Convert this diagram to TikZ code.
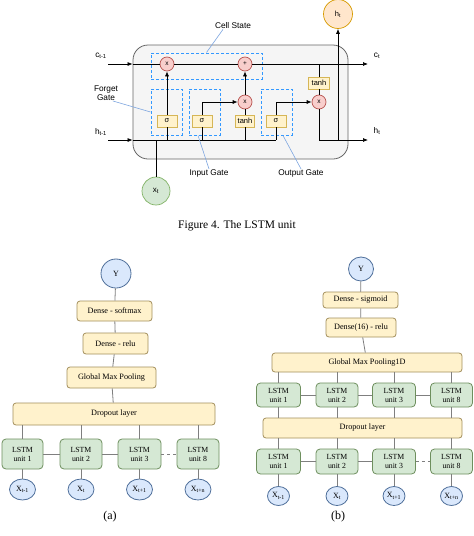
\documentclass[tikz,border=0pt]{standalone}
\usepackage{fontspec}
\setmainfont{Liberation Serif}
\newfontfamily\topfont{Liberation Sans}
\usetikzlibrary{arrows.meta,shapes.geometric}
\definecolor{yfill}{HTML}{FFF2CC}
\definecolor{ydraw}{HTML}{D6B656}
\definecolor{ydk}{HTML}{A38F5C}
\definecolor{gfill}{HTML}{D5E8D4}
\definecolor{gdraw}{HTML}{82B366}
\definecolor{gdk}{HTML}{6E8F5E}
\definecolor{bfill}{HTML}{DAE8FC}
\definecolor{bdk}{HTML}{4F6F9A}
\definecolor{rfill}{HTML}{F8CECC}
\definecolor{rdraw}{HTML}{B85450}
\definecolor{ofill}{HTML}{FFE6CC}
\definecolor{odraw}{HTML}{D79B00}
\definecolor{cellfill}{HTML}{F5F5F5}
\definecolor{celldraw}{HTML}{666666}
\definecolor{dashblue}{HTML}{3399FF}
\definecolor{leadblue}{HTML}{7EA6E0}
\definecolor{cngray}{HTML}{7F7F7F}
\tikzset{
  arr/.style={-{Latex[length=5pt,width=4pt]}},
  opc/.style={circle, minimum size=14pt, inner sep=0pt, fill=rfill, draw=rdraw, font=\topfont\fontsize{6.5}{7}\selectfont},
  gatebox/.style={rectangle, minimum width=20pt, minimum height=12pt, inner sep=0pt, fill=yfill, draw=ydraw, font=\topfont\fontsize{7.5}{8}\selectfont},
  dbox/.style={rectangle, draw=dashblue, dash pattern=on 3pt off 2pt, line width=1pt, inner sep=0pt},
  lab/.style={font=\topfont\fontsize{8.3}{9.5}\selectfont, inner sep=0pt},
  lead/.style={draw=leadblue, line width=0.6pt},
  yb/.style={rectangle, rounded corners=3pt, fill=yfill, draw=ydk, line width=0.8pt, inner sep=0pt, font=\fontsize{8.2}{9}\selectfont},
  gb/.style={rectangle, rounded corners=4pt, fill=gfill, draw=gdk, line width=0.8pt, inner sep=0pt, align=center, font=\fontsize{7.8}{9}\selectfont},
  xc/.style={ellipse, fill=bfill, draw=bdk, line width=0.8pt, inner sep=0pt, font=\fontsize{8}{9}\selectfont},
  cn/.style={draw=cngray, line width=0.8pt}
}
\begin{document}
\begin{tikzpicture}[x=1pt,y=-1pt, line width=0.7pt]
\useasboundingbox (0,0) rectangle (474,536);
\fill[white] (0,0) rectangle (474,536);

% ---------- LSTM unit ----------
\node[draw=celldraw, fill=cellfill, rounded corners=15pt, minimum width=215pt, minimum height=114pt, line width=0.8pt] (cell) at (240.5,102) {};

\node[dbox, minimum width=111pt, minimum height=26pt] (dcs) at (206.5,66) {};
\node[dbox, minimum width=31pt, minimum height=46pt] (dfg) at (166.5,112) {};
\node[dbox, minimum width=31pt, minimum height=46pt] (dig) at (204.5,112) {};
\node[dbox, minimum width=31pt, minimum height=46pt] (dog) at (276.5,112) {};

\coordinate (cin) at (108,64);
\coordinate (cout) at (368,64);
\coordinate (hin) at (108,140);
\coordinate (hout) at (368,140);
\coordinate (hup) at (338,140);

\node[opc] (fx) at (167,64) {x};
\node[opc] (pl) at (245,64) {+};
\node[opc] (ix) at (245,102) {x};
\node[opc] (ox) at (319,102) {x};

\node[gatebox] (fs) at (167,121) {σ};
\node[gatebox] (is) at (202,121) {σ};
\node[gatebox, minimum width=19pt] (tn1) at (245,121) {tanh};
\node[gatebox] (os) at (276,121) {σ};
\node[gatebox, minimum width=21pt] (tn2) at (319,83) {tanh};

\node[circle, minimum size=29pt, inner sep=0pt, fill=ofill, draw=odraw, font=\topfont\fontsize{7.5}{8}\selectfont] (ht) at (338,14) {h\textsubscript{t}};
\node[circle, minimum size=28pt, inner sep=0pt, fill=gfill, draw=gdraw, font=\topfont\fontsize{8}{9}\selectfont] (xt) at (156,191) {x\textsubscript{t}};

\draw[arr] (cin) -- (cin -| cell.west);
\draw (cin -| cell.west) -- (fx);
\draw (fx) -- (pl);
\draw[arr] (pl) -- (cout);
\draw[arr] (hin) -- (hin -| cell.west);
\draw (hin -| cell.west) -- (hin -| os);
\draw[arr] (fs) -- (fx);
\draw (fs) -- (fs |- hin);
\draw (is) -- (is |- hin);
\draw (tn1) -- (tn1 |- hin);
\draw (os) -- (os |- hin);
\draw[arr] (is.north) |- (ix);
\draw (tn1) -- (ix);
\draw[arr] (ix) -- (pl);
\draw[arr] (os.north) |- (ox);
\draw (ox |- cin) -- (tn2);
\draw (tn2) -- (ox);
\draw[arr] (ox) |- (hout);
\draw[arr] (hup) -- (ht);
\draw (xt) -- (xt |- hin);

\node[lab] (lc1) at (101,56) {c\textsubscript{t-1}};
\node[lab] (lh1) at (101,132) {h\textsubscript{t-1}};
\node[lab] (lct) at (377,56) {c\textsubscript{t}};
\node[lab] (lht) at (377,131) {h\textsubscript{t}};
\node[lab] (lcs) at (233,26) {Cell State};
\node[lab, align=center] (lfg) at (106,93) {Forget\\Gate};
\node[lab] (lig) at (209,173) {Input Gate};
\node[lab] (log) at (301,173) {Output Gate};

\draw[lead] ([xshift=-10pt]lcs.south) -- (dcs.north);
\draw[lead] ([xshift=7pt]lfg.south) -- (dfg.west);
\draw[lead] ([xshift=-6.5pt]dig.south) -- (lig.north);
\draw[lead] ([xshift=6.5pt]dog.south) -- (log.north);

\node[font=\fontsize{11.5}{13}\selectfont] (cap) at (237,226) {Figure 4. The LSTM unit};

% ---------- (a) ----------
\node[xc, minimum width=30pt, minimum height=29pt] (aY) at (116,273.5) {Y};
\node[yb, minimum width=75pt, minimum height=20pt] (a1) at (114.5,311) {Dense - softmax};
\node[yb, minimum width=65pt, minimum height=21pt] (a2) at (115.5,343.5) {Dense - relu};
\node[yb, minimum width=89pt, minimum height=21pt] (a3) at (111.5,377.5) {Global Max Pooling};
\node[yb, minimum width=202pt, minimum height=22pt] (a4) at (114,414) {Dropout layer};
\node[gb, minimum width=41pt, minimum height=30pt] (al1) at (22.5,454) {LSTM\\unit 1};
\node[gb, minimum width=42pt, minimum height=30pt] (al2) at (81,454) {LSTM\\unit 2};
\node[gb, minimum width=43pt, minimum height=30pt] (al3) at (139.5,454) {LSTM\\unit 3};
\node[gb, minimum width=42pt, minimum height=30pt] (al8) at (198,454) {LSTM\\unit 8};
\node[xc, minimum width=26pt, minimum height=21pt] (ax1) at (22.5,489.5) {X\textsubscript{t-1}};
\node[xc, minimum width=26pt, minimum height=21pt] (ax2) at (81,489.5) {X\textsubscript{t}};
\node[xc, minimum width=26pt, minimum height=21pt] (ax3) at (139.5,489.5) {X\textsubscript{t+1}};
\node[xc, minimum width=26pt, minimum height=21pt] (ax8) at (198,489.5) {X\textsubscript{t+n}};

\draw[cn] (aY) -- (a1);
\draw[cn] (a1) -- (a2);
\draw[cn] (a2) -- (a3);
\draw[cn] (a3) -- (a4);
\foreach \u in {al1,al2,al3,al8} \draw[cn] (\u.north) -- (\u.north |- a4.south);
\draw[cn] (al1) -- (al2);
\draw[cn] (al2) -- (al3);
\draw[cn, dashed] (al3) -- (al8);
\draw[cn] (al1) -- (ax1);
\draw[cn] (al2) -- (ax2);
\draw[cn] (al3) -- (ax3);
\draw[cn] (al8) -- (ax8);
\node[font=\fontsize{12}{13}\selectfont] (capa) at (110,517) {(a)};

% ---------- (b) ----------
\node[xc, minimum width=25pt, minimum height=24pt] (bY) at (361,269) {Y};
\node[yb, minimum width=75pt, minimum height=16pt] (b1) at (360.5,300) {Dense - sigmoid};
\node[yb, minimum width=70pt, minimum height=19pt] (b2) at (361,327.5) {Dense(16) - relu};
\node[yb, minimum width=190pt, minimum height=19pt] (b3) at (367,362.5) {Global Max Pooling1D};
\node[gb, minimum width=44pt, minimum height=24pt] (bl1) at (278.5,395) {LSTM\\unit 1};
\node[gb, minimum width=42pt, minimum height=24pt] (bl2) at (337,395) {LSTM\\unit 2};
\node[gb, minimum width=43pt, minimum height=24pt] (bl3) at (394,395) {LSTM\\unit 3};
\node[gb, minimum width=42pt, minimum height=24pt] (bl8) at (451.5,395) {LSTM\\unit 8};
\node[yb, minimum width=199pt, minimum height=20pt] (b4) at (362.5,428) {Dropout layer};
\node[gb, minimum width=44pt, minimum height=25pt] (bm1) at (278.5,461.5) {LSTM\\unit 1};
\node[gb, minimum width=42pt, minimum height=25pt] (bm2) at (337,461.5) {LSTM\\unit 2};
\node[gb, minimum width=43pt, minimum height=25pt] (bm3) at (394,461.5) {LSTM\\unit 3};
\node[gb, minimum width=42pt, minimum height=25pt] (bm8) at (451.5,461.5) {LSTM\\unit 8};
\node[xc, minimum width=22pt, minimum height=19pt] (bx1) at (278.5,496) {X\textsubscript{t-1}};
\node[xc, minimum width=22pt, minimum height=19pt] (bx2) at (337,496) {X\textsubscript{t}};
\node[xc, minimum width=22pt, minimum height=19pt] (bx3) at (394,496) {X\textsubscript{t+1}};
\node[xc, minimum width=22pt, minimum height=19pt] (bx8) at (451.5,496) {X\textsubscript{t+n}};

\draw[cn] (bY) -- (b1);
\draw[cn] (b1) -- (b2);
\draw[cn] (b2) -- (b3);
\foreach \u in {bl1,bl2,bl3,bl8} {
  \draw[cn] (\u.north) -- (\u.north |- b3.south);
  \draw[cn] (\u.south) -- (\u.south |- b4.north);
}
\foreach \u in {bm1,bm2,bm3,bm8} \draw[cn] (\u.north) -- (\u.north |- b4.south);
\draw[cn] (bl1) -- (bl2);
\draw[cn] (bl2) -- (bl3);
\draw[cn] (bl3) -- (bl8);
\draw[cn] (bm1) -- (bm2);
\draw[cn] (bm2) -- (bm3);
\draw[cn, dashed] (bm3) -- (bm8);
\draw[cn] (bm1) -- (bx1);
\draw[cn] (bm2) -- (bx2);
\draw[cn] (bm3) -- (bx3);
\draw[cn] (bm8) -- (bx8);
\node[font=\fontsize{12}{13}\selectfont] (capb) at (338,517) {(b)};
\end{tikzpicture}
\end{document}
